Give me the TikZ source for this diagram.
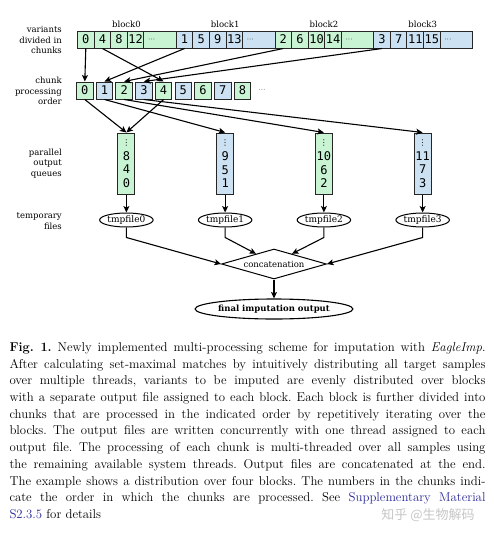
\documentclass[tikz,border=0pt]{standalone}
\usepackage{fontspec}
\newfontfamily\graphfont{DejaVu Serif}
\newfontfamily\cellfont{DejaVu Sans Mono}
\newfontfamily\symfont{DejaVu Sans}
\newfontfamily\cjkfont{Noto Sans CJK SC}
\usepackage{xcolor}
\usetikzlibrary{positioning,arrows.meta,shapes.geometric,calc}
\definecolor{chunkgreen}{RGB}{200,244,212}
\definecolor{chunkblue}{RGB}{204,226,242}
\definecolor{linkblue}{RGB}{40,40,150}

\begin{document}
\begin{tikzpicture}[
			x=1pt, y=1pt,
			cell/.style={rectangle, draw=black!85, line width=1pt, minimum width=16.6pt, minimum height=17pt, inner sep=0pt, font=\cellfont\fontsize{12}{12}\selectfont},
			queue/.style={rectangle, draw=black!85, line width=1pt, minimum width=17pt, minimum height=61pt, inner sep=0pt, align=center, font=\cellfont\fontsize{12}{13.4}\selectfont},
			blocklabel/.style={font=\graphfont\fontsize{8.5}{10}\selectfont, inner sep=0pt},
			sidelabel/.style={anchor=east, align=right, inner sep=0pt, font=\graphfont\fontsize{8.5}{10.7}\selectfont},
			tmpfile/.style={ellipse, draw, line width=1pt, minimum width=52pt, minimum height=14pt, inner sep=0pt, font=\graphfont\fontsize{9}{10}\selectfont},
			merge/.style={diamond, draw, line width=1pt, aspect=3.5, minimum width=105pt, minimum height=30pt, inner sep=0pt, font=\graphfont\fontsize{8.5}{10}\selectfont},
			result/.style={ellipse, draw, line width=1.1pt, minimum width=148pt, minimum height=20pt, inner sep=0pt, font=\graphfont\bfseries\fontsize{8.5}{10}\selectfont},
			caption/.style={anchor=north west, text width=476pt, align=justify, inner sep=0pt, font=\fontsize{12.8}{16.7}\selectfont\frenchspacing},
			arrow/.style={-{Stealth[length=6.5pt, width=6pt, inset=1.5pt]}, line width=1.1pt}
			]
			\useasboundingbox (0,0) rectangle (494,-536);
			
			% Row labels
			\node[sidelabel] (lvariants) at (62,-40) {variants\\divided in\\chunks};
			\node[sidelabel] (lorder) at (62,-91) {chunk\\processing\\order};
			\node[sidelabel] (lqueues) at (62,-163.5) {parallel\\output\\queues};
			\node[sidelabel] (lfiles) at (62,-221) {temporary\\files};
			
			% Blocks of chunks, queues and temporary files
			\foreach \b in {0,...,3} {
				\ifodd\b\relax \def\col{chunkblue}\else \def\col{chunkgreen}\fi
				\foreach \k in {0,...,3} {
					\pgfmathtruncatemacro{\num}{\b+4*\k}
					\node[cell, fill=\col, anchor=west] (top\b\k) at ({77+98.75*\b+16.6*\k},-39.5) {\num};
				}
				\node[cell, fill=\col, anchor=west, minimum width=32.35pt] (topdots\b) at ({77+98.75*\b+66.4},-39.5) {\makebox[28pt][l]{\hspace{2pt}$\scriptstyle\cdots$}};
				\node[blocklabel] (blk\b) at ({126.4+98.75*\b},-24) {block\b};
				\pgfmathtruncatemacro{\na}{\b+8}
				\pgfmathtruncatemacro{\nb}{\b+4}
				\node[queue, fill=\col] (q\b) at ({126.4+98.75*\b},-163.5) {{\symfont\fontsize{8}{8}\selectfont ⋮}\\[2pt]\na\\\nb\\\b};
				\node[tmpfile] (tmp\b) at ({126.4+98.75*\b},-220) {tmpfile\b};
				\draw[arrow] (q\b) -- (tmp\b);
			}
			
			% Processing order
			\foreach \i in {0,...,8} {
				\ifodd\i\relax \def\col{chunkblue}\else \def\col{chunkgreen}\fi
				\node[cell, fill=\col] (ord\i) at ({84.8+19.7*\i},-90.5) {\i};
			}
			\node[inner sep=0pt] (orddots) at (262,-90) {$\scriptstyle\cdots$};
			
			% Concatenation and output
			\node[merge] (cat) at (274,-264) {concatenation};
			\node[result] (final) at (274,-309) {final imputation output};
			
			% Arrows
			\foreach \src/\dst in {00/0, 01/4, 10/1, 20/2, 30/3}
				\draw[arrow] (top\src.south) -- (ord\dst.north);
			\foreach \src/\dst in {0/0, 4/0, 1/1, 2/2, 3/3}
				\draw[arrow] (ord\src.south) -- (q\dst.north);
			\draw[arrow] (tmp0.south) -- ++(0,-10) -- (cat.west);
			\draw[arrow] (tmp1.south) -- ++(0,-10) -- ($(cat.west)!0.66!(cat.north)$);
			\draw[arrow] (tmp2.south) -- ++(0,-10) -- ($(cat.east)!0.66!(cat.north)$);
			\draw[arrow] (tmp3.south) -- ++(0,-10) -- (cat.east);
			\draw[arrow] (cat.south) -- (final.north);
			
			% Caption
			\node[caption] (cap) at (9.3,-342.2) {\noindent\textbf{Fig. 1.} Newly implemented multi-processing scheme for imputation with \textit{EagleImp}.\linebreak
				After calculating set-maximal matches by intuitively distributing all target samples\linebreak
				over multiple threads, variants to be imputed are evenly distributed over blocks\linebreak
				with a separate output file assigned to each block. Each block is further divided into\linebreak
				chunks that are processed in the indicated order by repetitively iterating over the\linebreak
				blocks. The output files are written concurrently with one thread assigned to each\linebreak
				output file. The processing of each chunk is multi-threaded over all samples using\linebreak
				the remaining available system threads. Output files are concatenated at the end.\linebreak
				The example shows a distribution over four blocks. The numbers in the chunks indi-\linebreak
				cate the order in which the chunks are processed. See \textcolor{linkblue}{Supplementary Material}\linebreak
				\textcolor{linkblue}{S2.3.5} for details};
			\node[font=\cjkfont\fontsize{13}{13}\selectfont, text=gray!45, inner sep=0pt] (mark) at (428,-515) {知乎 @生物解码};
			
		\end{tikzpicture}
\end{document}
